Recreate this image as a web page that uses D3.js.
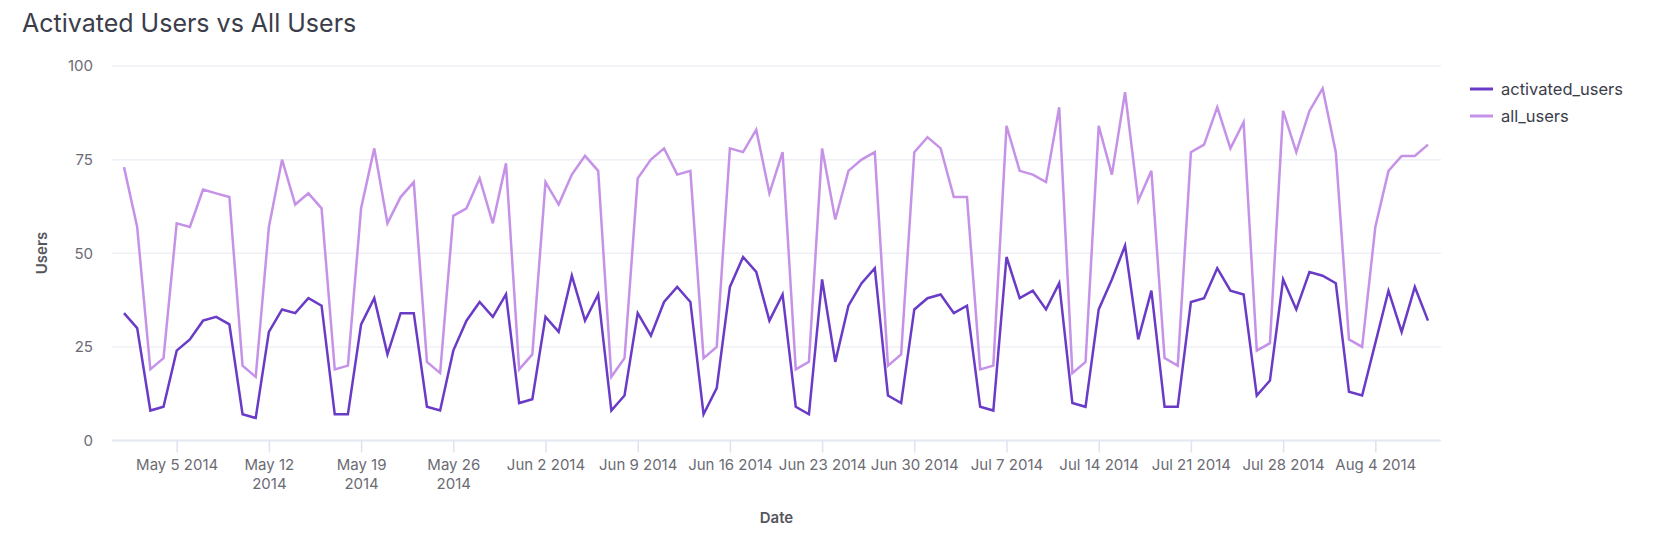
<!DOCTYPE html>
<html>
<head>
<meta charset="utf-8">
<script src="https://cdn.jsdelivr.net/npm/d3@7"></script>
<style>
  html, body { margin: 0; padding: 0; background: #fff; }
  svg { display: block; font-family: Inter, "Noto Sans", sans-serif; }
</style>
</head>
<body>
<svg id="chart" width="1654" height="541"></svg>
<script>
// ---- data ----
const startDate = "2014-05-01";
const activatedUsers = [
  34,30,8,9,24,27,32,33,31,7,6,29,35,34,38,36,7,
  7,31,38,23,34,34,9,8,24,32,37,33,39,10,
  11,33,29,44,32,39,8,12,34,28,37,41,37,7,14,41,49,45,32,39,
  9,7,43,21,36,42,46,12,10,35,
  38,39,34,36,9,8,
  49,38,40,35,42,10,9,35,43,52,27,40,9,9,37,38,46,
  40,39,12,16,43,35,45,44,
  42,13,12,26,40,29,41,32
];
const allUsers = [
  73,57,19,22,58,57,67,66,65,20,17,57,75,63,66,62,19,
  20,62,78,58,65,69,21,18,60,62,70,58,74,19,
  23,69,63,71,76,72,17,22,70,75,78,71,72,22,25,78,77,83,66,77,
  19,21,78,59,72,75,77,20,23,77,
  81,78,65,65,19,20,
  84,72,71,69,89,18,21,84,71,93,64,72,22,20,77,79,89,
  78,85,24,26,88,77,88,94,
  77,27,25,57,72,76,76,79
];
const seriesNames = ["activated_users", "all_users"];
const yTicks = [0, 25, 50, 75, 100];
const xTickDates = ["2014-05-05","2014-05-12","2014-05-19","2014-05-26","2014-06-02","2014-06-09",
  "2014-06-16","2014-06-23","2014-06-30","2014-07-07","2014-07-14","2014-07-21","2014-07-28","2014-08-04"];
const xTickLabels = [["May 5 2014"],["May 12","2014"],["May 19","2014"],["May 26","2014"],["Jun 2 2014"],["Jun 9 2014"],
  ["Jun 16 2014"],["Jun 23 2014"],["Jun 30 2014"],["Jul 7 2014"],["Jul 14 2014"],["Jul 21 2014"],["Jul 28 2014"],["Aug 4 2014"]];

// ---- build ----
const parse = d3.utcParse("%Y-%m-%d");
const t0 = parse(startDate);
const dates = activatedUsers.map((_, i) => d3.utcDay.offset(t0, i));
const colors = { activated_users: "#6a3bc6", all_users: "#c592e8" };

const svg = d3.select("#chart");
const plotLeft = 112, plotRight = 1441, plotTop = 66, plotBottom = 440.5;

const x = d3.scaleUtc().domain([dates[0], dates[dates.length - 1]]).range([124, 1428]);
const y = d3.scaleLinear().domain([0, 100]).range([plotBottom, plotTop]);

// title
svg.append("text").attr("x", 22).attr("y", 32).attr("font-size", 25).attr("fill", "#3b3d4a")
  .text("Activated Users vs All Users");

// grid
const grid = svg.append("g");
grid.selectAll("line").data(yTicks).join("line")
  .attr("x1", plotLeft).attr("x2", plotRight)
  .attr("y1", d => y(d)).attr("y2", d => y(d))
  .attr("stroke", d => d === 0 ? "#e4e8f2" : "#eef0f6").attr("stroke-width", d => d === 0 ? 2 : 1.5);

// y axis labels
const yAxis = d3.axisLeft(y).tickValues(yTicks).tickSize(0).tickPadding(0);
const yg = svg.append("g").attr("transform", `translate(93,0)`).call(yAxis);
yg.select(".domain").remove();
yg.selectAll("text").attr("font-size", 15).attr("fill", "#6b6b73").attr("font-family", "Inter, sans-serif");

// x axis
const xTicks = xTickDates.map(parse);
const xAxis = d3.axisBottom(x).tickValues(xTicks).tickSize(12).tickFormat(() => "");
const xg = svg.append("g").attr("transform", `translate(0,${plotBottom})`).call(xAxis);
xg.select(".domain").remove();
xg.selectAll(".tick line").attr("stroke", "#dde3f1").attr("stroke-width", 1.5);
xg.selectAll(".tick").each(function(d, i) {
  const t = d3.select(this).append("text").attr("fill", "#6b6b73").attr("font-size", 15)
    .attr("text-anchor", "middle").attr("font-family", "Inter, sans-serif");
  xTickLabels[i].forEach((s, j) => {
    t.append("tspan").attr("x", 0).attr("y", 29 + j * 19).text(s);
  });
});

// axis titles
svg.append("text").attr("transform", `translate(47,253) rotate(-90)`).attr("text-anchor", "middle")
  .attr("font-size", 15).attr("font-weight", 600).attr("fill", "#55565e").text("Users");
svg.append("text").attr("x", (plotLeft + plotRight) / 2).attr("y", 523).attr("text-anchor", "middle")
  .attr("font-size", 15).attr("font-weight", 600).attr("fill", "#55565e").text("Date");

// lines
const line = d3.line().x((d, i) => x(dates[i])).y(d => y(d));
svg.append("path").datum(allUsers).attr("d", line).attr("fill", "none")
  .attr("stroke", colors.all_users).attr("stroke-width", 2.5).attr("stroke-linejoin", "miter");
svg.append("path").datum(activatedUsers).attr("d", line).attr("fill", "none")
  .attr("stroke", colors.activated_users).attr("stroke-width", 2.5).attr("stroke-linejoin", "miter");

// legend
const lg = svg.append("g").attr("transform", "translate(1470,89)");
seriesNames.forEach((n, i) => {
  const g = lg.append("g").attr("transform", `translate(0,${i * 27})`);
  g.append("line").attr("x1", 0).attr("x2", 23).attr("y1", 0).attr("y2", 0)
    .attr("stroke", colors[n]).attr("stroke-width", 3);
  g.append("text").attr("x", 31).attr("y", 0).attr("dy", "0.35em").attr("font-size", 16.5)
    .attr("fill", "#3b3d4a").text(n);
});
</script>
</body>
</html>
